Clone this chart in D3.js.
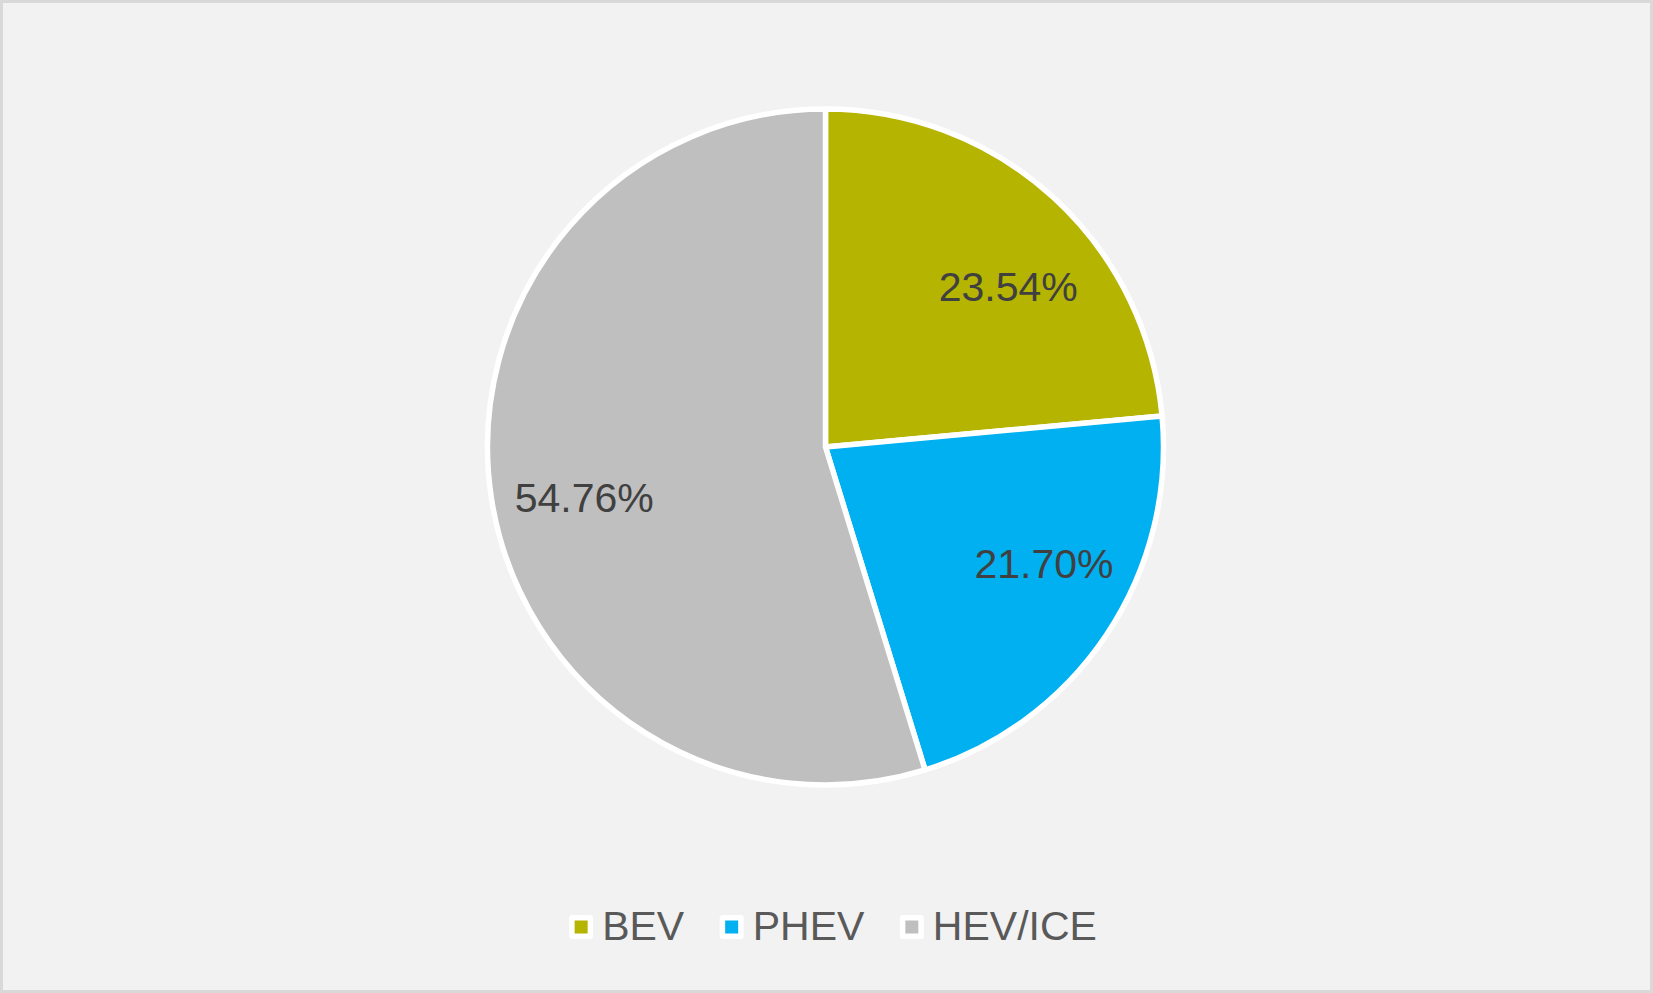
<!DOCTYPE html>
<html>
<head>
<meta charset="utf-8">
<script src="https://cdn.jsdelivr.net/npm/d3@7"></script>
<style>
  html, body { margin: 0; padding: 0; background: #f2f2f2; }
  svg { display: block; }
  text { font-family: "Liberation Sans", Arial, sans-serif; }
</style>
</head>
<body>
<svg id="chart" width="1653" height="993"></svg>
<script>
const categories = ["BEV", "PHEV", "HEV/ICE"];
const values = [23.54, 21.70, 54.76];
const labels = ["23.54%", "21.70%", "54.76%"];
const colors = ["#b5b400", "#00b0f0", "#bfbfbf"];

// layout-only nudges of data labels (Excel best-fit placement)
const labelNudge = [[17, 21], [14, -21], [2, 14]];

const W = 1653, H = 993;
const svg = d3.select("#chart");

svg.append("rect")
  .attr("x", 1.5).attr("y", 1.5)
  .attr("width", W - 3).attr("height", H - 3)
  .attr("fill", "#f2f2f2")
  .attr("stroke", "#d9d9d9")
  .attr("stroke-width", 3);

const cx = 825.5, cy = 447, R = 338;
const data = categories.map((c, i) => ({ name: c, value: values[i], label: labels[i], color: colors[i], nudge: labelNudge[i] }));

const pie = d3.pie().value(d => d.value).sort(null);
const arcs = pie(data);
const arc = d3.arc().innerRadius(0).outerRadius(R);
const labelArc = d3.arc().innerRadius(246).outerRadius(246);

const g = svg.append("g").attr("transform", `translate(${cx},${cy})`);

g.selectAll("path.slice")
  .data(arcs)
  .enter().append("path")
  .attr("class", "slice")
  .attr("d", arc)
  .attr("fill", d => d.data.color)
  .attr("stroke", "#ffffff")
  .attr("stroke-width", 5.5)
  .attr("stroke-linejoin", "round");

g.selectAll("text.lbl")
  .data(arcs)
  .enter().append("text")
  .attr("class", "lbl")
  .attr("transform", d => { const c = labelArc.centroid(d); return `translate(${c[0] + d.data.nudge[0]},${c[1] + d.data.nudge[1]})`; })
  .attr("text-anchor", "middle")
  .attr("dy", "0.36em")
  .attr("font-size", 41)
  .attr("fill", "#404040")
  .text(d => d.data.label);

// Legend
const legendY = 925;
const fontSize = 41;
const box = 24, sq = 13;
const legend = svg.append("g");
const items = legend.selectAll("g.item").data(data).enter().append("g").attr("class", "item");
items.append("rect")
  .attr("class", "bg")
  .attr("width", box).attr("height", box)
  .attr("rx", 3).attr("ry", 3)
  .attr("fill", "#ffffff");
items.append("rect")
  .attr("class", "mk")
  .attr("width", sq).attr("height", sq)
  .attr("fill", d => d.color);
items.append("text")
  .attr("font-size", fontSize)
  .attr("fill", "#595959")
  .attr("dy", "0.355em")
  .text(d => d.name);

const markerToText = 21;
const gap = 47.5;
let x = 0;
const positions = [];
items.each(function(d) {
  const tw = d3.select(this).select("text").node().getComputedTextLength();
  positions.push({ mx: x, tx: x + markerToText, tw });
  x = x + markerToText + tw + gap;
});
const totalW = (x - gap) + box / 2;
const legendLeft = 833 - totalW / 2;
const startX = legendLeft + box / 2;
items.each(function(d, i) {
  const p = positions[i];
  const sel = d3.select(this);
  sel.select("rect.bg").attr("x", startX + p.mx - box / 2).attr("y", legendY + 2 - box / 2);
  sel.select("rect.mk").attr("x", startX + p.mx - sq / 2).attr("y", legendY + 2 - sq / 2);
  sel.select("text").attr("x", startX + p.tx).attr("y", legendY);
});
</script>
</body>
</html>
